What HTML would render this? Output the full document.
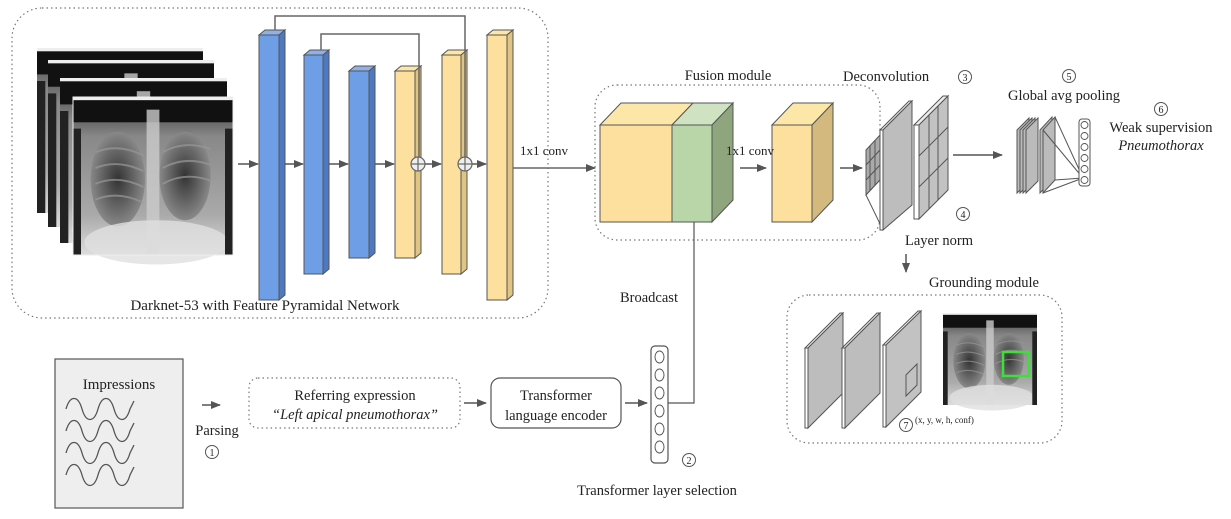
<!DOCTYPE html>
<html><head><meta charset="utf-8"><style>
html,body{margin:0;padding:0;background:#fff;}
svg{display:block;font-family:"Liberation Serif",serif;}
</style></head><body>
<svg width="1231" height="519" viewBox="0 0 1231 519" xmlns="http://www.w3.org/2000/svg">
<defs>
<marker id="ar" markerWidth="10" markerHeight="8" refX="9" refY="4" orient="auto" markerUnits="userSpaceOnUse"><path d="M0,0 L10,4 L0,8 z" fill="#555"/></marker>
<radialGradient id="lung" cx="0.5" cy="0.5" r="0.5"><stop offset="0" stop-color="#333"/><stop offset="1" stop-color="#888"/></radialGradient>
<linearGradient id="xb" x1="0" y1="0" x2="0" y2="1"><stop offset="0" stop-color="#333"/><stop offset="0.25" stop-color="#888"/><stop offset="0.75" stop-color="#aaa"/><stop offset="1" stop-color="#ddd"/></linearGradient>
<g id="xray">
<rect x="0" y="0" width="100" height="100" fill="url(#xb)"/>
<rect x="0" y="0" width="100" height="16" fill="#111"/>
<rect x="0" y="0" width="100" height="2" fill="#eee"/>
<ellipse cx="28" cy="52" rx="17" ry="30" fill="url(#lung)"/>
<ellipse cx="70" cy="50" rx="16" ry="28" fill="url(#lung)"/>
<g stroke="#999" stroke-width="1.2" fill="none" opacity="0.7">
<path d="M14,35 q14,-6 30,2"/><path d="M14,45 q14,-6 30,2"/><path d="M14,55 q14,-6 30,2"/><path d="M14,65 q14,-6 30,2"/>
<path d="M56,35 q14,-8 30,-2"/><path d="M56,45 q14,-8 30,-2"/><path d="M56,55 q14,-8 30,-2"/>
</g>
<rect x="46" y="8" width="8" height="92" fill="#ccc" opacity="0.8"/>
<ellipse cx="52" cy="92" rx="45" ry="14" fill="#e0e0e0" opacity="0.8"/>
<rect x="0" y="20" width="5" height="80" fill="#222"/>
<rect x="95" y="20" width="5" height="80" fill="#222"/>
</g>
</defs>

<rect x="12" y="8" width="536" height="310" rx="30" fill="none" stroke="#777" stroke-width="1.2" stroke-dasharray="1.5,3"/>

<g transform="translate(37,48) scale(1.66,1.65)"><use href="#xray"/></g>
<g transform="translate(48,60) scale(1.66,1.67)"><use href="#xray"/></g>
<g transform="translate(60,78) scale(1.67,1.65)"><use href="#xray"/></g>
<g transform="translate(73,97) scale(1.6,1.58)"><use href="#xray"/></g>
<rect x="73" y="97" width="160" height="158" fill="none" stroke="#eee" stroke-width="1"/>

<g stroke="#555" stroke-width="1">
<polygon points="259,35 265,30 285,30 279,35" fill="#8fb1ea"/><polygon points="279,35 285,30 285,295 279,300" fill="#4e79c2"/><rect x="259" y="35" width="20" height="265" fill="#6d9ee6"/>
<polygon points="304,55 310,50 329,50 323,55" fill="#8fb1ea"/><polygon points="323,55 329,50 329,269 323,274" fill="#4e79c2"/><rect x="304" y="55" width="19" height="219" fill="#6d9ee6"/>
<polygon points="349,71 355,66 375,66 369,71" fill="#8fb1ea"/><polygon points="369,71 375,66 375,253 369,258" fill="#4e79c2"/><rect x="349" y="71" width="20" height="187" fill="#6d9ee6"/>
<polygon points="395,71 401,66 421,66 415,71" fill="#fde7a8"/><polygon points="415,71 421,66 421,253 415,258" fill="#e0c483"/><rect x="395" y="71" width="20" height="187" fill="#fde09e"/>
<polygon points="442,55 448,50 467,50 461,55" fill="#fde7a8"/><polygon points="461,55 467,50 467,269 461,274" fill="#e0c483"/><rect x="442" y="55" width="19" height="219" fill="#fde09e"/>
<polygon points="487,35 493,30 513,30 507,35" fill="#fde7a8"/><polygon points="507,35 513,30 513,295 507,300" fill="#e0c483"/><rect x="487" y="35" width="20" height="265" fill="#fde09e"/>
</g>
<polyline points="275,30 275,16 465,16 465,157" fill="none" stroke="#666" stroke-width="1.5"/>
<polyline points="321,50 321,34 419,34 419,157" fill="none" stroke="#666" stroke-width="1.5"/>
<g stroke="#555" stroke-width="1.5" marker-end="url(#ar)">
<line x1="238" y1="164" x2="258" y2="164"/>
<line x1="285" y1="164" x2="303" y2="164"/>
<line x1="329" y1="164" x2="348" y2="164"/>
<line x1="375" y1="164" x2="394" y2="164"/>
<line x1="425" y1="164" x2="441" y2="164"/>
<line x1="472" y1="164" x2="486" y2="164"/>
</g>
<g fill="#eee" stroke="#666" stroke-width="1.2">
<circle cx="418" cy="164" r="7"/><circle cx="465" cy="164" r="7"/>
</g>
<g stroke="#666" stroke-width="1.2"><line x1="411" y1="164" x2="425" y2="164"/><line x1="418" y1="157" x2="418" y2="171"/><line x1="458" y1="164" x2="472" y2="164"/><line x1="465" y1="157" x2="465" y2="171"/></g>
<text x="265" y="310" font-size="15" text-anchor="middle" fill="#222">Darknet-53 with Feature Pyramidal Network</text>

<line x1="513" y1="168" x2="595" y2="168" stroke="#666" stroke-width="1.5" marker-end="url(#ar)"/>
<text x="520" y="155" font-size="13" fill="#222">1x1 conv</text>

<rect x="595" y="85" width="285" height="155" rx="22" fill="none" stroke="#777" stroke-width="1.2" stroke-dasharray="1.5,3"/>
<text x="728" y="80" font-size="14.5" text-anchor="middle" fill="#222">Fusion module</text>
<g stroke="#555" stroke-width="1">
<polygon points="600,125 621,103 693,103 672,125" fill="#fde7a8"/>
<polygon points="672,125 693,103 733,103 712,125" fill="#cfe3c2"/>
<polygon points="712,125 733,103 733,200 712,222" fill="#8ea57e"/>
<rect x="600" y="125" width="72" height="97" fill="#fde09e"/>
<rect x="672" y="125" width="40" height="97" fill="#b9d6a8"/>
<polygon points="772,125 793,103 833,103 812,125" fill="#fde7a8"/>
<polygon points="812,125 833,103 833,200 812,222" fill="#d3b97d"/>
<rect x="772" y="125" width="40" height="97" fill="#fde09e"/>
</g>
<text x="726" y="155" font-size="13" fill="#222">1x1 conv</text>
<line x1="740" y1="168" x2="766" y2="168" stroke="#555" stroke-width="1.5" marker-end="url(#ar)"/>
<line x1="840" y1="168" x2="862" y2="168" stroke="#555" stroke-width="1.5" marker-end="url(#ar)"/>

<text x="843" y="81" font-size="14.5" fill="#222">Deconvolution</text>
<g font-size="10" text-anchor="middle" fill="#222">
<circle cx="965" cy="77" r="6.5" fill="none" stroke="#555"/><text x="965" y="81">3</text>
<circle cx="963" cy="214" r="6.5" fill="none" stroke="#555"/><text x="963" y="218">4</text>
<circle cx="1069" cy="76" r="6.5" fill="none" stroke="#555"/><text x="1069" y="80">5</text>
<circle cx="1161" cy="109" r="6.5" fill="none" stroke="#555"/><text x="1161" y="113">6</text>
<circle cx="212" cy="452" r="6.5" fill="none" stroke="#555"/><text x="212" y="456">1</text>
<circle cx="689" cy="460" r="6.5" fill="none" stroke="#555"/><text x="689" y="464">2</text>
<circle cx="906" cy="425" r="6.5" fill="none" stroke="#555"/><text x="906" y="429">7</text>
</g>
<g stroke="#555" stroke-width="1">
<polygon points="866,150 880,135 880,180 866,195" fill="#aaa"/>
<line x1="870" y1="146" x2="870" y2="191"/><line x1="875" y1="141" x2="875" y2="186"/>
<line x1="866" y1="165" x2="880" y2="150"/><line x1="866" y1="180" x2="880" y2="165"/>
<polygon points="866,195 880,180 883,230" fill="#fff"/>
<polygon points="880,130 909,101 912,101 883,130" fill="#eee"/>
<polygon points="880,130 883,130 883,230 880,230" fill="#fff"/>
<polygon points="883,130 912,101 912,205 883,230" fill="#bdbdbd"/>
<polygon points="914,125 943,96 948,96 919,125" fill="#eee"/>
<polygon points="914,125 919,125 919,219 914,219" fill="#fff"/>
<polygon points="919,125 948,96 948,190 919,219" fill="#c2c2c2"/>
<line x1="929" y1="115" x2="929" y2="209"/><line x1="938" y1="106" x2="938" y2="200"/>
<line x1="919" y1="156" x2="948" y2="127"/><line x1="919" y1="187" x2="948" y2="158"/>
</g>
<line x1="953" y1="155" x2="1002" y2="155" stroke="#555" stroke-width="1.5" marker-end="url(#ar)"/>
<text x="939" y="245" font-size="14.5" text-anchor="middle" fill="#222">Layer norm</text>

<text x="1064" y="100" font-size="14.5" text-anchor="middle" fill="#222">Global avg pooling</text>
<g stroke="#555" stroke-width="1" fill="#bbb">
<polygon points="1017,130 1029,118 1029,181 1017,193"/>
<polygon points="1020,130 1032,118 1032,181 1020,193"/>
<polygon points="1023,130 1035,118 1035,181 1023,193"/>
<polygon points="1026,130 1038,118 1038,181 1026,193"/>
<polygon points="1040,130 1052,117 1052,180 1040,193"/>
<polygon points="1043,130 1055,117 1055,180 1043,193"/>
<line x1="1043" y1="130" x2="1083" y2="178" fill="none"/>
<line x1="1055" y1="117" x2="1083" y2="178" fill="none"/>
<line x1="1043" y1="193" x2="1083" y2="178" fill="none"/>
<line x1="1055" y1="180" x2="1083" y2="178" fill="none"/>
</g>
<rect x="1079" y="119" width="11" height="67" rx="3" fill="#fff" stroke="#555"/>
<g fill="#fff" stroke="#555" stroke-width="0.9">
<circle cx="1084.5" cy="125" r="3.5"/><circle cx="1084.5" cy="136" r="3.5"/><circle cx="1084.5" cy="147" r="3.5"/><circle cx="1084.5" cy="158" r="3.5"/><circle cx="1084.5" cy="169" r="3.5"/><circle cx="1084.5" cy="180" r="3.5"/>
</g>
<text x="1161" y="132" font-size="14.5" text-anchor="middle" fill="#222">Weak supervision</text>
<text x="1161" y="150" font-size="14.5" text-anchor="middle" font-style="italic" fill="#222">Pneumothorax</text>

<line x1="906" y1="254" x2="906" y2="272" stroke="#555" stroke-width="1.5" marker-end="url(#ar)"/>
<text x="984" y="287" font-size="14.5" text-anchor="middle" fill="#222">Grounding module</text>
<rect x="787" y="295" width="275" height="148" rx="22" fill="none" stroke="#777" stroke-width="1.2" stroke-dasharray="1.5,3"/>
<g stroke="#555" stroke-width="1">
<polygon points="805,348 840,313 843,313 808,348" fill="#eee"/><rect x="805" y="348" width="3" height="80" fill="#fff"/><polygon points="808,348 843,313 843,393 808,428" fill="#bdbdbd"/>
<polygon points="842,348 877,313 880,313 845,348" fill="#eee"/><rect x="842" y="348" width="3" height="80" fill="#fff"/><polygon points="845,348 880,313 880,393 845,428" fill="#bdbdbd"/>
<polygon points="883,345 918,311 921,311 886,345" fill="#eee"/><rect x="883" y="345" width="3" height="82" fill="#fff"/><polygon points="886,345 921,311 921,392 886,427" fill="#c2c2c2"/>
<polygon points="906,375 917,364 917,385 906,396" fill="none"/>
</g>
<g transform="translate(943,313) scale(0.94,0.92)"><use href="#xray"/></g>
<rect x="1003" y="352" width="26" height="24" fill="none" stroke="#3de03a" stroke-width="2.5"/>
<text x="915" y="423" font-size="9" fill="#222">(x, y, w, h, conf)</text>

<rect x="55" y="359" width="128" height="149" fill="#eee" stroke="#555" stroke-width="1.2"/>
<text x="119" y="389" font-size="15" text-anchor="middle" fill="#222">Impressions</text>
<g fill="none" stroke="#555" stroke-width="1.3">
<path d="M66,409 c4,-14 12,-14 16,0 c4,14 12,14 16,0 c4,-14 12,-14 16,0 c4,14 12,14 16,0 l4,-8"/>
<path d="M66,431 c4,-14 12,-14 16,0 c4,14 12,14 16,0 c4,-14 12,-14 16,0 c4,14 12,14 16,0 l4,-8"/>
<path d="M66,453 c4,-14 12,-14 16,0 c4,14 12,14 16,0 c4,-14 12,-14 16,0 c4,14 12,14 16,0 l4,-8"/>
<path d="M66,475 c4,-14 12,-14 16,0 c4,14 12,14 16,0 c4,-14 12,-14 16,0 c4,14 12,14 16,0 l4,-8"/>
</g>
<line x1="202" y1="405" x2="220" y2="405" stroke="#555" stroke-width="1.5" marker-end="url(#ar)"/>
<text x="217" y="435" font-size="14.5" text-anchor="middle" fill="#222">Parsing</text>
<rect x="249" y="378" width="211" height="50" rx="9" fill="none" stroke="#777" stroke-width="1.2" stroke-dasharray="1.5,3"/>
<text x="355" y="400" font-size="14.5" text-anchor="middle" fill="#222">Referring expression</text>
<text x="355" y="419" font-size="14.5" text-anchor="middle" font-style="italic" fill="#222">“Left apical pneumothorax”</text>
<line x1="464" y1="403" x2="486" y2="403" stroke="#555" stroke-width="1.5" marker-end="url(#ar)"/>
<rect x="491" y="378" width="130" height="50" rx="9" fill="#fff" stroke="#555" stroke-width="1.2"/>
<text x="556" y="400" font-size="14.5" text-anchor="middle" fill="#222">Transformer</text>
<text x="556" y="420" font-size="14.5" text-anchor="middle" fill="#222">language encoder</text>
<line x1="625" y1="403" x2="647" y2="403" stroke="#555" stroke-width="1.5" marker-end="url(#ar)"/>
<rect x="651" y="346" width="17" height="117" rx="4" fill="#fff" stroke="#555" stroke-width="1.2"/>
<g fill="#fff" stroke="#555" stroke-width="1">
<ellipse cx="659.5" cy="357" rx="4.5" ry="6"/><ellipse cx="659.5" cy="375" rx="4.5" ry="6"/><ellipse cx="659.5" cy="393" rx="4.5" ry="6"/><ellipse cx="659.5" cy="411" rx="4.5" ry="6"/><ellipse cx="659.5" cy="429" rx="4.5" ry="6"/><ellipse cx="659.5" cy="447" rx="4.5" ry="6"/>
</g>
<polyline points="668,403 694,403 694,222" fill="none" stroke="#555" stroke-width="1.2"/>
<text x="649" y="302" font-size="14.5" text-anchor="middle" fill="#222">Broadcast</text>
<text x="657" y="495" font-size="14.5" text-anchor="middle" fill="#222">Transformer layer selection</text>
</svg>
</body></html>
